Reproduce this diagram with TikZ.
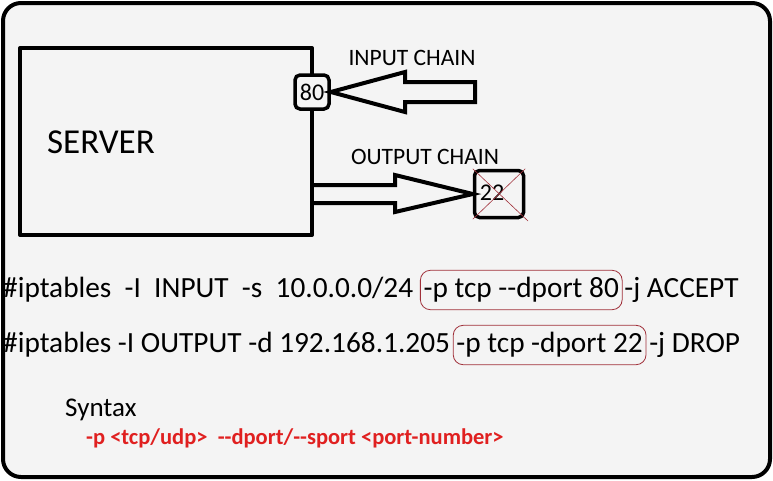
\documentclass[tikz,border=0pt]{standalone}
\usepackage{fontspec}
\setmainfont{Carlito}
\definecolor{bg}{HTML}{F4F4F4}
\definecolor{ovalred}{HTML}{A0303A}
\definecolor{synred}{HTML}{E02020}
\newcommand{\dd}{-{}-}
\begin{document}
\begin{tikzpicture}[x=1pt,y=-1pt,
  thickline/.style={line width=4pt,line join=round},
  port/.style={draw,line width=3.5pt,rounded corners=5pt},
  cmd/.style={inner sep=0pt,font=\fontsize{29.3}{31}\selectfont,text height=21pt,text depth=6pt},
  lbl/.style={inner sep=0pt,font=\fontsize{23.5}{25}\selectfont},
  oval/.style={draw=ovalred,line width=0.8pt,rounded corners=10pt}]
\useasboundingbox (0,0) rectangle (773,480);
\draw[fill=bg,line width=4pt,rounded corners=18pt] (3,3) rectangle (770,477);
\draw[thickline] (20,48) rectangle (312,235);
\node[inner sep=0pt,font=\fontsize{35}{37}\selectfont] (server) at (101,142) {SERVER};
\node[port,minimum width=34pt,minimum height=34pt,fill=bg,inner sep=0pt,font=\fontsize{24}{26}\selectfont] (p80) at (312,92) {80};
\node[port,minimum width=49pt,minimum height=47pt,inner sep=0pt] (p22) at (499,194) {};
\node[inner sep=0pt,font=\fontsize{24}{26}\selectfont] (t22) at (492,193) {22};
\draw[ovalred,line width=0.6pt] (p22.north west) -- (528,221) (p22.north east) -- (p22.south west);
\draw[line width=4pt,line join=miter] (p80.east) -- (405,72) -- (405,82) -- (475,82) -- (475,102) -- (405,102) -- (405,112) -- cycle;
\draw[line width=4pt,line join=miter] (312,185) -- (395,185) -- (395,175) -- (p22.west) -- (395,212) -- (395,203) -- (312,203);
\node[lbl] (inch) at (412,58) {INPUT CHAIN};
\node[lbl] (outch) at (425,157) {OUTPUT CHAIN};
\node[cmd,anchor=west] (c1a) at (3,290) {\#iptables\ \ -I\ \ INPUT\ \ -s\ \ 10.0.0.0/24};
\node[cmd,anchor=west] (c1b) at ([xshift=10pt]c1a.east) {-p tcp \dd dport 80};
\node[cmd,anchor=west] (c1c) at ([xshift=5pt]c1b.east) {-j ACCEPT};
\draw[oval] ([xshift=-3pt,yshift=6pt]c1b.north west) rectangle ([xshift=3pt,yshift=-6pt]c1b.south east);
\node[cmd,anchor=west] (c2a) at (3,345) {\#iptables -I OUTPUT -d 192.168.1.205};
\node[cmd,anchor=west] (c2b) at ([xshift=6pt]c2a.east) {-p tcp -dport 22};
\node[cmd,anchor=west] (c2c) at ([xshift=6pt]c2b.east) {-j DROP};
\draw[oval] ([xshift=-3pt,yshift=6pt]c2b.north west) rectangle ([xshift=3pt,yshift=-6pt]c2b.south east);
\node[anchor=west,inner sep=0pt,font=\fontsize{27}{29}\selectfont] (syn) at (65,410) {Syntax};
\node[anchor=west,inner sep=0pt,text=synred,font=\bfseries\fontsize{22.5}{24}\selectfont] (synl) at (86,438) {-p <tcp/udp>\ \ \dd dport/\dd sport <port-number>};
\end{tikzpicture}
\end{document}
